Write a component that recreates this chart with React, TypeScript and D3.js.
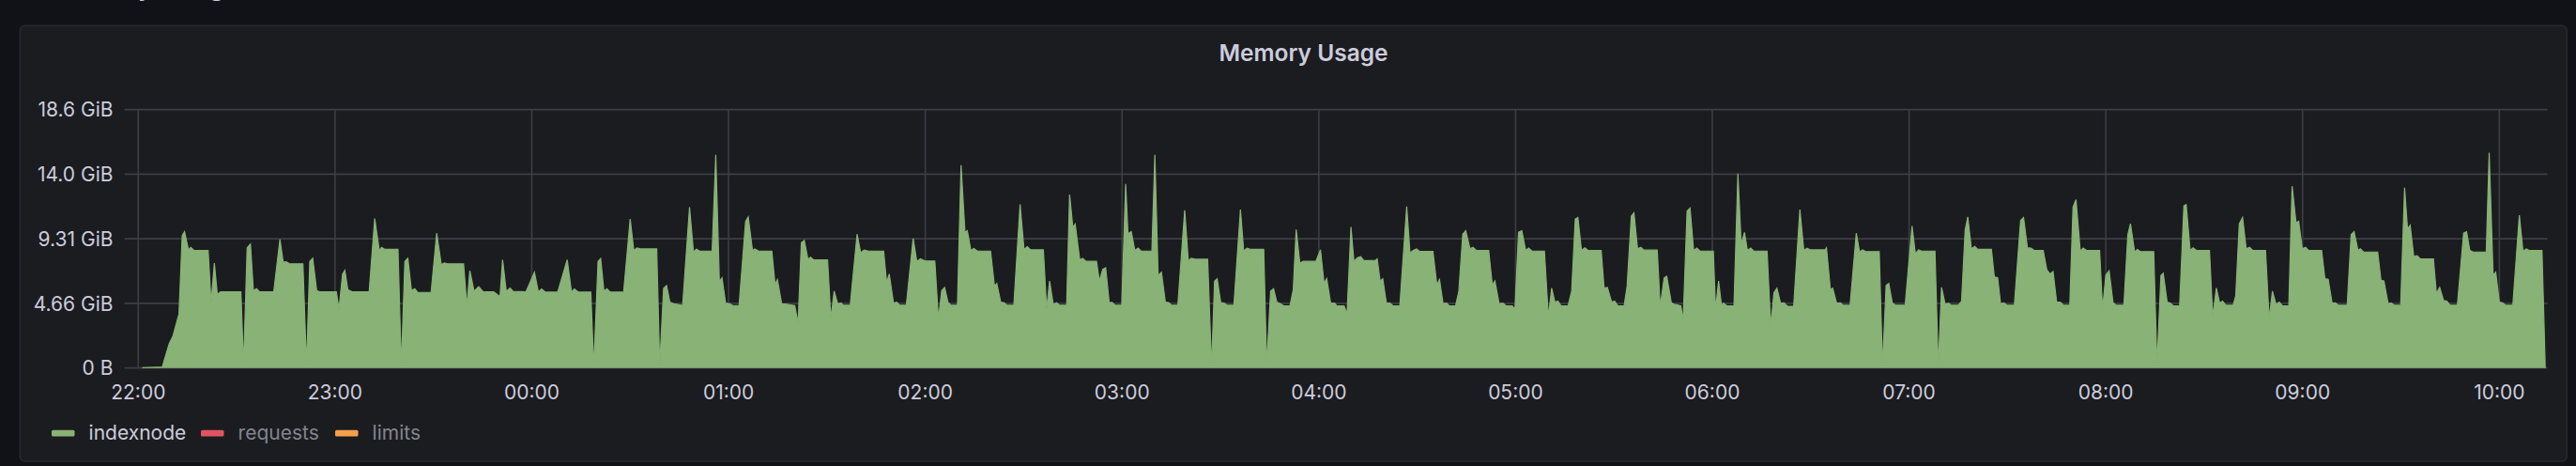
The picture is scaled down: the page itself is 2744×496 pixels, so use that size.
import React from "react";
import * as d3 from "d3";

// Memory usage of "indexnode" — [minutes after 22:00, GiB]
const mem2200to0000: [number, number][] = [
  [1.2,0.02],[7.3,0.07],[9.4,1.74],[10.5,2.26],[12.2,3.73],[12.4,3.84],[13.4,9.56],[14.1,9.83],[15.3,8.52],[16.0,8.70],[17.0,8.48],[21.3,8.48],[22.2,4.68],[23.2,7.57],[24.1,5.31],[25.1,5.49],[31.3,5.49],[32.1,0.16],[33.2,8.66],[34.2,8.93],[35.1,5.58],[36.1,5.72],[37.0,5.49],[41.3,5.49],[43.2,9.27],[44.2,7.62],[45.1,7.66],[46.1,7.51],[50.2,7.51],[51.3,0.16],[52.3,7.69],[53.2,7.91],[54.4,5.58],[55.3,5.49],[60.4,5.49],[61.2,4.25],[62.3,6.78],[63.0,7.05],[63.9,5.65],[65.2,5.49],[70.4,5.49],[72.1,10.78],[73.5,8.48],[74.2,8.70],[75.2,8.55],[79.2,8.55],[80.2,0.11],[81.3,7.69],[82.2,7.91],[83.3,5.58],[84.3,5.72],[85.2,5.45],[89.3,5.45],[91.0,9.72],[92.4,7.44],[93.3,7.57],[94.3,7.51],[99.2,7.51],[100.2,4.45],[101.1,7.01],[102.4,5.54],[103.8,5.86],[105.2,5.49],[108.4,5.49],[110.3,5.15],[111.1,7.80],[112.2,5.54],[113.4,5.76],[114.3,5.52],
];
const mem0000to0200: [number, number][] = [
  [118.2,5.49],[120.8,6.90],[122.0,5.49],[123.0,5.70],[124.1,5.47],[127.9,5.47],[130.8,7.80],[132.1,5.49],[133.0,5.70],[134.2,5.47],[138.0,5.47],[138.9,0.07],[140.2,7.69],[141.0,7.89],[142.0,5.54],[142.9,5.72],[143.9,5.47],[148.0,5.47],[150.0,10.74],[151.1,8.48],[152.1,8.66],[153.0,8.59],[158.1,8.59],[159.0,0.16],[160.2,5.76],[161.1,5.95],[162.1,4.75],[163.3,4.63],[166.0,4.52],[168.1,11.60],[169.3,8.36],[170.2,8.57],[171.2,8.43],[175.0,8.43],[176.1,15.37],[177.2,6.22],[178.0,6.51],[179.1,4.68],[180.4,4.63],[181.3,4.50],[183.2,4.50],[185.2,10.56],[186.0,10.90],[187.3,8.48],[188.0,8.59],[189.2,8.43],[193.2,8.43],[194.2,5.99],[194.9,6.38],[196.2,4.63],[197.8,4.59],[200.2,4.50],[201.2,3.21],[202.2,9.04],[203.1,9.20],[204.2,7.84],[205.0,7.98],[205.9,7.80],[210.2,7.80],[211.2,3.55],[212.2,5.54],[213.3,4.63],[214.3,4.70],[215.0,4.52],[217.1,4.52],[219.2,9.65],[220.3,8.30],[221.3,8.50],[222.7,8.43],[227.3,8.43],[228.2,6.17],[229.0,6.78],[230.3,4.68],[231.3,4.75],[232.2,4.52],[234.2,4.52],[236.3,9.34],[237.4,7.69],[238.5,7.87],[239.9,7.71],
];
const mem0200to0400: [number, number][] = [
  [242.9,7.71],[244.0,3.55],[245.0,5.58],[245.9,5.81],[246.9,4.75],[247.8,4.52],[249.8,4.52],[250.9,14.63],[252.1,9.79],[252.8,9.90],[253.9,8.48],[254.8,8.61],[255.9,8.43],[259.9,8.43],[261.1,5.88],[261.8,6.10],[263.0,4.75],[264.1,4.70],[264.9,4.52],[267.0,4.52],[268.9,11.80],[270.1,8.55],[271.1,8.75],[272.1,8.52],[276.0,8.52],[277.0,4.23],[277.9,6.28],[279.0,4.59],[280.0,4.70],[281.0,4.52],[283.1,4.52],[284.0,12.50],[285.0,10.11],[285.7,10.38],[287.1,7.80],[288.0,7.91],[289.0,7.69],[292.2,7.69],[293.1,6.26],[294.1,7.12],[295.0,7.23],[296.1,4.68],[296.9,4.75],[297.9,4.52],[299.9,4.52],[301.1,13.27],[301.8,9.68],[302.8,9.83],[303.9,8.48],[304.9,8.64],[305.8,8.43],[309.1,8.43],[310.0,15.37],[311.0,6.67],[312.0,6.90],[313.2,4.75],[314.2,4.72],[315.1,4.52],[317.0,4.52],[319.1,11.37],[320.2,7.73],[321.1,7.91],[322.3,7.84],[326.1,7.84],[327.3,0.07],[328.2,6.26],[329.0,6.44],[330.1,4.72],[331.1,4.68],[332.1,4.52],[334.1,4.52],[336.1,11.42],[337.1,8.43],[338.1,8.64],[339.3,8.55],[343.2,8.55],[344.1,0.20],[345.3,5.54],[346.2,5.72],[347.2,4.75],[348.3,4.63],[349.3,4.48],[351.2,4.48],[352.2,5.65],[353.1,9.99],[354.2,7.57],[355.3,7.69],[359.1,7.69],
];
const mem0400to0600: [number, number][] = [
  [360.5,8.52],[361.6,6.10],[362.4,6.44],[363.6,4.70],[364.8,4.68],[365.5,4.48],[367.7,4.48],[368.6,3.89],[369.8,10.17],[370.7,7.69],[371.8,7.96],[372.8,8.03],[373.7,7.75],[377.3,7.75],[377.8,7.87],[378.7,6.26],[379.5,6.44],[380.6,4.68],[381.6,4.70],[382.6,4.48],[384.7,4.48],[386.8,11.64],[387.8,8.30],[388.8,8.48],[389.8,8.59],[390.7,8.41],[394.8,8.41],[396.0,5.99],[396.8,6.38],[397.9,4.63],[398.9,4.70],[399.8,4.48],[401.7,4.48],[402.7,5.54],[403.9,9.65],[404.8,9.90],[406.1,8.59],[407.0,8.70],[408.0,8.48],[411.8,8.48],[412.9,5.99],[413.7,6.28],[415.0,4.63],[416.1,4.68],[417.1,4.48],[419.0,4.48],[419.8,4.23],[420.9,9.79],[421.9,9.90],[423.1,8.48],[424.0,8.64],[425.0,8.43],[428.8,8.43],[430.0,3.68],[431.0,5.76],[432.0,4.75],[432.9,4.82],[433.9,4.48],[436.0,4.48],[437.1,5.54],[438.2,10.74],[439.0,10.85],[440.1,8.48],[441.1,8.66],[442.1,8.48],[446.1,8.48],[447.0,5.76],[448.0,5.81],[449.3,4.75],[450.2,4.82],[451.2,4.48],[453.1,4.48],[454.0,5.88],[455.3,10.96],[456.1,11.19],[457.2,8.59],[458.2,8.70],[459.1,8.50],[463.2,8.50],[464.1,4.41],[465.3,6.49],[466.1,6.62],[467.5,4.70],[468.4,4.59],[470.4,4.48],[471.1,3.44],[472.3,11.30],[473.2,11.53],[474.3,8.48],[475.3,8.64],[476.2,8.43],[480.3,8.43],[481.0,4.18],[481.9,6.28],
];
const mem0600to0800: [number, number][] = [
  [482.8,4.52],[483.4,4.68],[484.4,4.48],[486.6,4.48],[487.8,14.02],[488.8,8.93],[489.8,9.77],[490.7,8.48],[491.7,8.64],[492.6,8.43],[496.7,8.43],[497.8,3.05],[498.8,5.43],[499.7,5.76],[500.8,4.68],[501.9,4.70],[502.9,4.45],[504.8,4.45],[506.7,11.42],[507.9,8.48],[508.9,8.64],[509.9,8.52],[514.4,8.52],[514.8,8.66],[516.0,5.65],[516.7,5.76],[517.9,4.68],[519.1,4.70],[519.9,4.52],[522.0,4.52],[523.9,9.72],[524.9,8.36],[525.8,8.52],[526.8,8.39],[530.9,8.39],[531.9,0.16],[533.0,5.95],[533.8,6.10],[534.9,4.68],[535.9,4.52],[538.8,4.52],[540.9,10.24],[541.9,8.25],[542.9,8.52],[543.8,8.43],[547.9,8.43],[548.9,0.07],[549.9,5.81],[551.0,4.59],[552.0,4.68],[552.9,4.52],[555.0,4.52],[556.0,4.82],[557.1,9.95],[557.9,10.90],[559.0,8.59],[560.0,8.77],[561.0,8.55],[565.1,8.55],[566.0,6.56],[567.0,6.51],[567.9,4.63],[568.9,4.70],[569.9,4.52],[572.1,4.52],[574.0,10.63],[574.9,10.85],[576.1,8.64],[577.0,8.66],[578.2,8.48],[580.9,8.48],[582.0,7.08],[583.0,6.78],[583.9,6.96],[585.0,4.75],[586.1,4.75],[587.1,4.52],[589.0,4.52],[590.0,11.60],[590.9,12.14],[592.2,8.43],[593.1,8.64],[594.1,8.48],[598.1,8.48],[599.0,4.23],[600.0,6.71],[601.0,7.01],[602.2,4.70],[603.2,4.52],
];
const mem0800to1015: [number, number][] = [
  [605.5,4.52],[606.7,9.61],[607.5,10.40],[608.8,8.36],[609.6,8.55],[610.5,8.39],[614.6,8.39],[615.6,0.16],[616.8,6.67],[617.5,6.83],[618.7,4.75],[619.6,4.68],[620.6,4.48],[622.5,4.48],[623.8,11.69],[624.5,11.78],[625.7,8.48],[626.6,8.66],[627.6,8.48],[631.6,8.48],[632.6,3.68],[633.7,5.76],[634.7,4.68],[635.6,4.82],[636.6,4.52],[638.8,4.52],[639.6,5.20],[640.7,10.40],[641.7,10.85],[642.8,8.59],[643.8,8.70],[644.8,8.48],[648.7,8.48],[649.8,3.55],[650.8,5.54],[651.9,4.59],[652.9,4.75],[653.9,4.48],[655.8,4.48],[656.8,13.11],[658.0,10.47],[658.8,10.58],[659.9,8.59],[660.9,8.70],[661.8,8.48],[665.8,8.48],[666.8,6.44],[667.8,6.40],[669.0,4.68],[670.0,4.70],[670.9,4.52],[673.6,4.52],[674.8,9.61],[675.7,9.83],[676.9,8.48],[677.6,8.59],[678.6,8.36],[682.9,8.36],[683.9,6.33],[684.8,6.28],[686.1,4.63],[687.0,4.70],[688.0,4.52],[689.9,4.52],[691.1,13.00],[692.0,10.01],[692.8,10.29],[693.9,8.03],[694.9,8.09],[695.9,7.87],[699.9,7.87],[700.8,5.36],[701.8,5.81],[703.0,4.86],[704.0,4.82],[705.0,4.52],[707.2,4.52],[709.1,9.72],[710.0,9.83],[711.0,8.48],[712.0,8.36],[716.0,8.36],[716.9,15.53],[718.1,6.67],[718.9,6.90],[720.0,4.75],[721.0,4.70],[721.9,4.52],[724.1,4.52],[726.1,11.01],[727.2,8.43],[728.2,8.59],[729.1,8.48],[733.0,8.48],[734.0,0.0],
];

// time range in minutes after 22:00 (21:55:47 → 10:14:40)
const rangeStartMin = -4.21;
const rangeEndMin = 734.67;

// y axis: decimal GB steps shown as GiB
const yTickBytes = [0, 5e9, 10e9, 15e9, 20e9];
const yTickLabels = ["0 B", "4.66 GiB", "9.31 GiB", "14.0 GiB", "18.6 GiB"];

const legendNames = ["indexnode", "requests", "limits"];
const legendColors = ["#89b276", "#e25361", "#f5a04a"];
const legendActive = [true, false, false];

const W = 2744;
const H = 496;
const GIB = 1024 ** 3;
const FONT = "Inter, 'Noto Sans', sans-serif";
const TXT = "#ccccdc";

export default function App() {
  const base = new Date(2024, 0, 1, 22, 0, 0).getTime();
  const toDate = (m: number) => new Date(base + m * 60000);

  const plot = { left: 132.6, right: 2713.6, top: 116.7, bottom: 391.7 };

  const x = d3
    .scaleTime()
    .domain([toDate(rangeStartMin), toDate(rangeEndMin)])
    .range([plot.left, plot.right]);
  const y = d3
    .scaleLinear()
    .domain([0, 20e9])
    .range([plot.bottom, plot.top]);

  const data = [
    ...mem2200to0000,
    ...mem0000to0200,
    ...mem0200to0400,
    ...mem0400to0600,
    ...mem0600to0800,
    ...mem0800to1015,
  ];

  const area = d3
    .area<[number, number]>()
    .x((d) => x(toDate(d[0])))
    .y0(y(0))
    .y1((d) => y(d[1] * GIB))
    .curve(d3.curveLinear);
  const line = d3
    .line<[number, number]>()
    .x((d) => x(toDate(d[0])))
    .y((d) => y(d[1] * GIB))
    .curve(d3.curveLinear);

  const xTicks = x.ticks(d3.timeHour.every(1) as d3.TimeInterval);
  const fmt = d3.timeFormat("%H:%M");
  const grid = "#3d3e44";

  let lx = 55;
  const legend = legendNames.map((n, i) => {
    const el = (
      <g key={n}>
        <rect x={lx} y={457.7} width={24.5} height={6.8} rx={1.5} fill={legendColors[i]} />
        <text
          x={lx + 39.6}
          y={467.5}
          fontSize={21}
          fontFamily={FONT}
          fill={legendActive[i] ? TXT : "rgba(204,204,220,0.6)"}
        >
          {n}
        </text>
      </g>
    );
    lx += [159, 143, 0][i];
    return el;
  });

  return (
    <div style={{ position: "fixed", left: 0, top: 0, width: W, height: H, background: "#111217" }}>
      <svg width={W} height={H} style={{ display: "block" }}>
        <rect x={0} y={0} width={W} height={H} fill="#111217" />
        <text x={52} y={-5} fontSize={28} fontWeight={500} fontFamily={FONT} fill={TXT}>
          Memory Usage
        </text>
        <rect
          x={21.3}
          y={27.3}
          width={2713}
          height={463.7}
          rx={5}
          fill="#1b1c20"
          stroke="#26282d"
          strokeWidth={1.5}
        />
        <text
          x={1388.5}
          y={65}
          textAnchor="middle"
          fontSize={24.5}
          fontWeight={600}
          fontFamily={FONT}
          fill={TXT}
        >
          Memory Usage
        </text>

        {/* grid */}
        {yTickBytes.map((v) => (
          <line key={"h" + v} x1={plot.left} x2={plot.right} y1={y(v)} y2={y(v)} stroke={grid} strokeWidth={1.8} />
        ))}
        {xTicks.map((t) => (
          <line
            key={"v" + t.getTime()}
            x1={x(t)}
            x2={x(t)}
            y1={plot.top}
            y2={plot.bottom}
            stroke={grid}
            strokeWidth={1.6}
          />
        ))}

        {/* series */}
        <path d={area(data) || ""} fill={legendColors[0]} />
        <path d={line(data) || ""} fill="none" stroke={legendColors[0]} strokeWidth={1.2} />

        {/* y labels */}
        {yTickBytes.map((v, i) => (
          <text
            key={"yl" + v}
            x={120.5}
            y={y(v) + 7.6}
            textAnchor="end"
            fontSize={21}
            fontFamily={FONT}
            fill={TXT}
          >
            {yTickLabels[i]}
          </text>
        ))}
        {/* x labels */}
        {xTicks.map((t) => (
          <text
            key={"xl" + t.getTime()}
            x={x(t)}
            y={424.5}
            textAnchor="middle"
            fontSize={21}
            fontFamily={FONT}
            fill={TXT}
          >
            {fmt(t)}
          </text>
        ))}

        {legend}
      </svg>
    </div>
  );
}
